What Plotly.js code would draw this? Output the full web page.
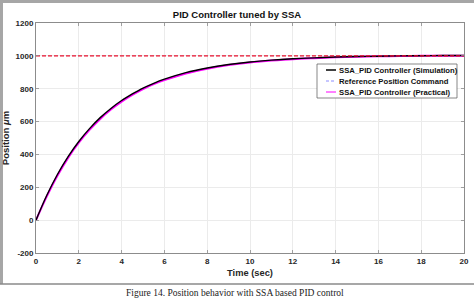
<!DOCTYPE html>
<html>
<head>
<meta charset="utf-8">
<script src="https://cdn.plot.ly/plotly-3.0.1.min.js"></script>
<style>
  html, body { margin: 0; padding: 0; background: #ffffff; }
  #chart { width: 474px; height: 300px; }
</style>
</head>
<body>
<div id="chart"></div>
<script>
// Time samples (s)
const timeSec = [0, 0.5, 1, 1.5, 2, 2.5, 3, 3.5, 4, 4.5, 5, 5.5, 6, 7, 8, 9, 10, 11, 12, 13, 14, 15, 16, 17, 18, 19, 20];
// Position response, simulated (µm)
const posSimulation = [0, 150, 278, 387, 479, 557, 624, 680, 728, 768, 804, 833, 858, 898, 926, 947, 963, 974, 982, 988, 993, 996, 998, 1000, 1001, 1002, 1002];
// Position response, measured on the rig (µm)
const posPractical = [0, 143, 270, 379, 471, 549, 616, 673, 721, 762, 798, 828, 852, 893, 922, 944, 960, 971, 980, 986, 991, 995, 997, 999, 1000, 1001, 1001];
// Reference command
const refTime = [0, 20];
const refPosition = [1000, 1000];

const legendNames = ['SSA_PID Controller (Simulation)', 'Reference Position Command', 'SSA_PID Controller (Practical)'];
const xTicks = [0, 2, 4, 6, 8, 10, 12, 14, 16, 18, 20];
const yTicks = [-200, 0, 200, 400, 600, 800, 1000, 1200];

// plot area in pixels: x 36..464, y 23..253
const M = { l: 36, r: 10, t: 23, b: 47 };
const W = 474, H = 300;
const PW = W - M.l - M.r, PH = H - M.t - M.b;
const px = v => (v - M.l) / PW;
const py = v => (H - M.b - v) / PH;

const FONT = 'Liberation Sans, Arial, sans-serif';

const traces = [
  { x: timeSec, y: posPractical, mode: 'lines', line: { color: '#ff00ff', width: 2, shape: 'spline' }, showlegend: false, name: legendNames[2] },
  { x: timeSec, y: posSimulation, mode: 'lines', line: { color: '#000000', width: 1.4, shape: 'spline' }, showlegend: false, name: legendNames[0] },
  { x: refTime, y: refPosition, mode: 'lines', line: { color: '#e8102e', width: 1.3, dash: '4px,2px' }, showlegend: false, name: legendNames[1] }
];

// legend box and entries
const legBox = { x0: px(317), x1: px(457), y0: py(98), y1: py(64) };
const legRows = [py(70), py(81), py(92)];
const legLines = [
  { color: '#000000', width: 1.5, dash: 'solid' },
  { color: '#8c8cff', width: 1, dash: '3px,2px' },
  { color: '#ff00ff', width: 1, dash: 'solid' }
];

const shapes = [
  // figure frame
  { type: 'rect', xref: 'paper', yref: 'paper', x0: px(0), x1: px(3), y0: py(284), y1: py(0), fillcolor: '#a6a6a6', line: { width: 0 }, layer: 'below' },
  { type: 'rect', xref: 'paper', yref: 'paper', x0: px(0), x1: px(474), y0: py(3), y1: py(0), fillcolor: '#a6a6a6', line: { width: 0 }, layer: 'below' },
  { type: 'line', xref: 'paper', yref: 'paper', x0: px(0), x1: px(474), y0: py(284), y1: py(284), line: { color: '#8a8a8a', width: 1.5 } },
  // legend
  { type: 'rect', xref: 'paper', yref: 'paper', x0: legBox.x0, x1: legBox.x1, y0: legBox.y0, y1: legBox.y1, fillcolor: '#ffffff', line: { color: '#555555', width: 0.7 } }
];
legLines.forEach((ln, i) => {
  shapes.push({ type: 'line', xref: 'paper', yref: 'paper', x0: px(326), x1: px(336), y0: legRows[i], y1: legRows[i], line: ln });
});

const annotations = legendNames.map((name, i) => ({
  xref: 'paper', yref: 'paper', x: px(337), y: legRows[i], xanchor: 'left', yanchor: 'middle',
  text: name, showarrow: false, font: { family: FONT, size: 7.7, color: '#111111', weight: 'bold' }
}));
annotations.push({
  xref: 'paper', yref: 'paper', x: px(235), y: py(285.5), xanchor: 'center', yanchor: 'top',
  text: 'Figure 14. Position behavior with SSA based PID control', showarrow: false,
  font: { family: 'Liberation Serif, Times New Roman, serif', size: 9.5, color: '#222222' }
});

const axisCommon = {
  showline: true, linecolor: '#8c8c8c', linewidth: 1, mirror: 'ticks',
  ticks: 'inside', ticklen: 3, tickcolor: '#8c8c8c', tickwidth: 0.8,
  showgrid: true, gridcolor: '#ebebeb', gridwidth: 1, zeroline: false,
  tickfont: { family: FONT, size: 8, color: '#262626', weight: 'bold' }
};

const layout = {
  width: W, height: H, margin: M,
  paper_bgcolor: '#ffffff', plot_bgcolor: '#ffffff',
  showlegend: false,
  title: { text: 'PID Controller tuned by SSA', x: px(250), xanchor: 'center', y: 1 - 15 / H, yanchor: 'middle',
           font: { family: FONT, size: 9.5, color: '#111111', weight: 'bold' } },
  xaxis: Object.assign({}, axisCommon, {
    range: [0, 20], tickvals: xTicks, ticktext: xTicks.map(String),
    title: { text: 'Time (sec)', standoff: 4, font: { family: FONT, size: 9.3, color: '#262626', weight: 'bold' } }
  }),
  yaxis: Object.assign({}, axisCommon, {
    range: [-200, 1200], tickvals: yTicks, ticktext: yTicks.map(String),
    title: { text: 'Position <i>μ</i>m', standoff: 5, font: { family: FONT, size: 9.5, color: '#262626', weight: 'bold' } }
  }),
  shapes: shapes,
  annotations: annotations
};

Plotly.newPlot('chart', traces, layout, { displayModeBar: false, staticPlot: true });
</script>
</body>
</html>
